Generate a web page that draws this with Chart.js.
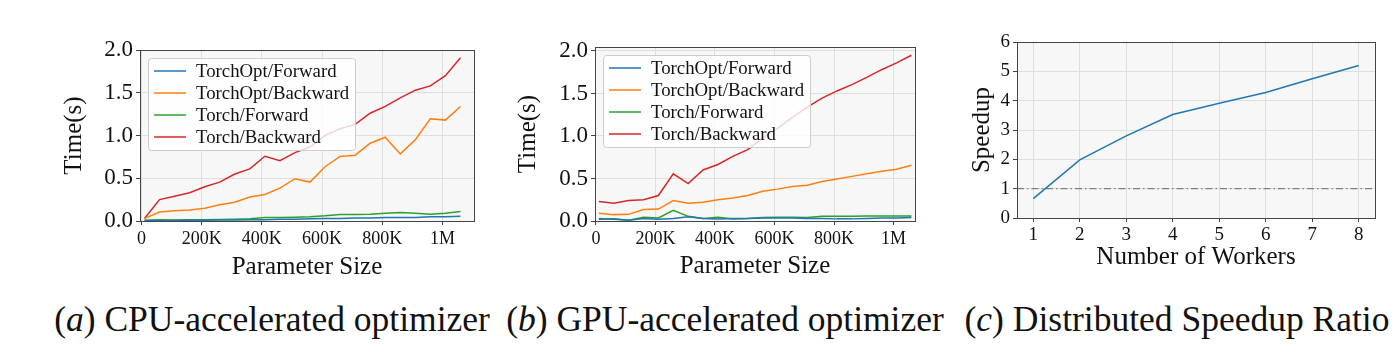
<!DOCTYPE html>
<html>
<head>
<meta charset="utf-8">
<script src="https://cdn.jsdelivr.net/npm/chart.js@4.4.1/dist/chart.umd.min.js"></script>
<style>
    html, body { margin: 0; padding: 0; background: #fff; }
    #page { position: relative; width: 1400px; height: 354px; overflow: hidden; }
    .panel { position: absolute; top: 0; height: 290px; }
    .cap {
        position: absolute; top: 302px; transform: translateX(-50%);
        font-family: "Liberation Serif", serif; font-size: 35.5px; line-height: 1;
        color: #111; white-space: nowrap;
    }
</style>
</head>
<body>
<div id="page">
    <div class="panel" style="left:0;width:480px"><canvas id="cpuChart"></canvas></div>
    <div class="panel" style="left:480px;width:460px"><canvas id="gpuChart"></canvas></div>
    <div class="panel" style="left:940px;width:460px"><canvas id="speedupChart"></canvas></div>
    <div class="cap" style="left:272px">(<i>a</i>) CPU-accelerated optimizer</div>
    <div class="cap" style="left:725px">(<i>b</i>) GPU-accelerated optimizer</div>
    <div class="cap" style="left:1177px">(<i>c</i>) Distributed Speedup Ratio</div>
</div>
<script>
// dati
const paramSizes = [10000, 60000, 110000, 160000, 210000, 260000, 310000, 360000, 410000, 460000, 510000,
    560000, 610000, 660000, 710000, 760000, 810000, 860000, 910000, 960000, 1010000, 1060000];

const seriesLabels = ['TorchOpt/Forward', 'TorchOpt/Backward', 'Torch/Forward', 'Torch/Backward'];
const seriesColors = ['#1f77b4', '#ff7f0e', '#2ca02c', '#d62728'];

// (a) CPU
const cpuTorchOptForward = [0.005, 0.005, 0.005, 0.008, 0.01, 0.012, 0.012, 0.015, 0.015, 0.02, 0.02,
    0.025, 0.028, 0.03, 0.035, 0.035, 0.04, 0.04, 0.04, 0.05, 0.05, 0.055];
const cpuTorchOptBackward = [0.03, 0.105, 0.12, 0.13, 0.15, 0.19, 0.22, 0.28, 0.31, 0.385, 0.495,
    0.455, 0.635, 0.755, 0.77, 0.91, 0.98, 0.785, 0.95, 1.195, 1.18, 1.34];
const cpuTorchForward = [0.01, 0.015, 0.012, 0.015, 0.015, 0.018, 0.02, 0.025, 0.04, 0.042, 0.045,
    0.05, 0.06, 0.075, 0.075, 0.078, 0.09, 0.1, 0.09, 0.08, 0.09, 0.11];
const cpuTorchBackward = [0.03, 0.25, 0.29, 0.33, 0.40, 0.455, 0.55, 0.61, 0.757, 0.705, 0.80,
    0.865, 1.0, 1.08, 1.13, 1.26, 1.34, 1.44, 1.53, 1.58, 1.70, 1.91];

// (b) GPU
const gpuTorchOptForward = [0.02, 0.025, 0.01, 0.03, 0.02, 0.03, 0.05, 0.03, 0.025, 0.03, 0.03,
    0.035, 0.035, 0.035, 0.03, 0.03, 0.025, 0.025, 0.03, 0.035, 0.035, 0.04];
const gpuTorchOptBackward = [0.09, 0.075, 0.078, 0.135, 0.14, 0.24, 0.21, 0.22, 0.25, 0.27, 0.30,
    0.35, 0.375, 0.405, 0.42, 0.465, 0.495, 0.525, 0.555, 0.585, 0.61, 0.655];
const gpuTorchForward = [0.03, 0.02, 0.01, 0.045, 0.035, 0.125, 0.055, 0.03, 0.045, 0.025, 0.03,
    0.04, 0.045, 0.045, 0.04, 0.055, 0.055, 0.055, 0.06, 0.06, 0.06, 0.06];
const gpuTorchBackward = [0.23, 0.21, 0.24, 0.25, 0.30, 0.555, 0.44, 0.60, 0.665, 0.76, 0.84,
    0.975, 1.09, 1.22, 1.34, 1.445, 1.53, 1.605, 1.69, 1.78, 1.86, 1.95];

// (c) speedup
const workers = [1, 2, 3, 4, 5, 6, 7, 8];
const speedup = [0.66, 1.98, 2.80, 3.53, 3.91, 4.28, 4.75, 5.2];
const baseline = 1;

// tick
const timeTicks = [0, 0.5, 1.0, 1.5, 2.0];
const sizeTicks = [0, 200000, 400000, 600000, 800000, 1000000];
const sizeTickLabels = ['0', '200K', '400K', '600K', '800K', '1M'];
const workerTicks = [1, 2, 3, 4, 5, 6, 7, 8];
const speedupTicks = [0, 1, 2, 3, 4, 5, 6];

const SERIF = 'Liberation Serif';
const GRID = '#dedede';
const FRAME = '#444';
const TEXT = '#111';

// sfondo e cornice dell'area del grafico
const framePlugin = {
    id: 'frame',
    beforeDraw(chart) {
        const {ctx, chartArea: a} = chart;
        ctx.save();
        ctx.fillStyle = '#f7f7f7';
        ctx.fillRect(a.left, a.top, a.right - a.left, a.bottom - a.top);
        ctx.restore();
    },
    afterDraw(chart) {
        const {ctx, chartArea: a} = chart;
        ctx.save();
        ctx.strokeStyle = FRAME;
        ctx.lineWidth = 1;
        ctx.strokeRect(Math.round(a.left) + 0.5, Math.round(a.top) + 0.5,
            Math.round(a.right - a.left), Math.round(a.bottom - a.top));
        ctx.restore();
    }
};

// legenda dentro l'area del grafico (come matplotlib)
const insideLegend = {
    id: 'insideLegend',
    afterDatasetsDraw(chart, args, opts) {
        if (!opts || !opts.display) return;
        const {ctx, chartArea} = chart;
        const sets = chart.data.datasets.filter(d => d.label);
        const rowH = 22, lineLen = 32, gap = 10, pad = 6;
        ctx.save();
        ctx.font = '18.8px "' + SERIF + '"';
        const textW = Math.max(...sets.map(d => ctx.measureText(d.label).width));
        const x0 = chartArea.left + opts.dx;
        const y0 = chartArea.top + opts.dy;
        const w = pad + lineLen + gap + textW + pad;
        const h = rowH * (sets.length - 1) + 26;
        ctx.beginPath();
        ctx.roundRect(x0 + 0.5, y0 + 0.5, w, h, 3);
        ctx.fillStyle = 'rgba(255,255,255,0.8)';
        ctx.fill();
        ctx.strokeStyle = '#cccccc';
        ctx.lineWidth = 1;
        ctx.stroke();
        ctx.textBaseline = 'middle';
        sets.forEach((d, i) => {
            const cy = y0 + 13 + i * rowH;
            ctx.beginPath();
            ctx.moveTo(x0 + pad, cy);
            ctx.lineTo(x0 + pad + lineLen, cy);
            ctx.strokeStyle = d.borderColor;
            ctx.lineWidth = 1.5;
            ctx.stroke();
            ctx.fillStyle = TEXT;
            ctx.fillText(d.label, x0 + pad + lineLen + gap, cy + 1);
        });
        ctx.restore();
    }
};

function lineSet(label, color, xs, ys) {
    return {
        label: label,
        data: xs.map((x, i) => ({x: x, y: ys[i]})),
        borderColor: color,
        backgroundColor: color,
        borderWidth: 1.5,
        pointRadius: 0,
        tension: 0,
        fill: false
    };
}

function fixedTicks(values) {
    return scale => { scale.ticks = values.map(v => ({value: v})); };
}

// box = area del grafico in pixel del canvas
function timeChart(canvasId, series, box, xRange, yMax, yTitlePad, xTitlePad) {
    const canvas = document.getElementById(canvasId);
    const titleFont = {family: SERIF, size: 25, lineHeight: 1};
    return new Chart(canvas, {
        type: 'line',
        data: {
            datasets: series.map((s, i) => lineSet(seriesLabels[i], seriesColors[i], paramSizes, s))
        },
        options: {
            responsive: true,
            maintainAspectRatio: false,
            animation: false,
            events: [],
            layout: {padding: {left: 0, top: box.top, right: box.padRight, bottom: 0}},
            plugins: {
                legend: {display: false},
                tooltip: {enabled: false},
                insideLegend: {display: true, dx: 8, dy: 8}
            },
            scales: {
                x: {
                    type: 'linear',
                    min: xRange[0],
                    max: xRange[1],
                    afterBuildTicks: fixedTicks(sizeTicks),
                    afterFit: s => { s.height = box.xHeight; },
                    ticks: {
                        font: {family: SERIF, size: 18}, color: TEXT, padding: 3, maxRotation: 0, autoSkip: false,
                        callback: (v, i) => sizeTickLabels[i]
                    },
                    grid: {color: GRID, tickColor: FRAME, tickLength: 4},
                    border: {display: false},
                    title: {display: true, text: 'Parameter Size', font: titleFont, color: TEXT,
                        padding: {top: 0, bottom: xTitlePad}}
                },
                y: {
                    min: 0,
                    max: yMax,
                    afterBuildTicks: fixedTicks(timeTicks),
                    afterFit: s => { s.width = box.left; },
                    ticks: {
                        font: {family: SERIF, size: 23}, color: TEXT, padding: 3,
                        callback: v => v.toFixed(1)
                    },
                    grid: {color: GRID, tickColor: FRAME, tickLength: 4},
                    border: {display: false},
                    title: {display: true, text: 'Time(s)', font: titleFont, color: TEXT,
                        padding: {top: yTitlePad, bottom: 0}}
                }
            }
        },
        plugins: [framePlugin, insideLegend]
    });
}

timeChart('cpuChart',
    [cpuTorchOptForward, cpuTorchOptBackward, cpuTorchForward, cpuTorchBackward],
    {left: 140, top: 50, padRight: 6, xHeight: 69},
    [-5000, 1105000], 2.0, 62, 10);

timeChart('gpuChart',
    [gpuTorchOptForward, gpuTorchOptBackward, gpuTorchForward, gpuTorchBackward],
    {left: 115, top: 47, padRight: 25, xHeight: 69},
    [-3000, 1072000], 2.047, 36, 11);

// (c) speedup distribuito
new Chart(document.getElementById('speedupChart'), {
    type: 'line',
    data: {
        datasets: [
            lineSet('Speedup', '#1f77b4', workers, speedup),
            {
                data: [{x: 0.65, y: baseline}, {x: 8.35, y: baseline}],
                borderColor: '#7f7f7f',
                borderWidth: 1.2,
                borderDash: [7, 3, 1.5, 3],
                pointRadius: 0,
                fill: false
            }
        ]
    },
    options: {
        responsive: true,
        maintainAspectRatio: false,
        animation: false,
        events: [],
        layout: {padding: {left: 0, top: 42, right: 25, bottom: 0}},
        plugins: {legend: {display: false}, tooltip: {enabled: false}},
        scales: {
            x: {
                type: 'linear',
                min: 0.65,
                max: 8.35,
                afterBuildTicks: fixedTicks(workerTicks),
                afterFit: s => { s.height = 72; },
                ticks: {font: {family: SERIF, size: 19}, color: TEXT, padding: 2, maxRotation: 0},
                grid: {color: GRID, tickColor: FRAME, tickLength: 4},
                border: {display: false},
                title: {display: true, text: 'Number of Workers', font: {family: SERIF, size: 25, lineHeight: 1},
                    color: TEXT, padding: {top: 0, bottom: 20}}
            },
            y: {
                min: 0,
                max: 6,
                afterBuildTicks: fixedTicks(speedupTicks),
                afterFit: s => { s.width = 77; },
                ticks: {font: {family: SERIF, size: 19}, color: TEXT, padding: 3},
                grid: {color: GRID, tickColor: FRAME, tickLength: 4},
                border: {display: false},
                title: {display: true, text: 'Speedup', font: {family: SERIF, size: 25, lineHeight: 1},
                    color: TEXT, padding: {top: 30, bottom: 0}}
            }
        }
    },
    plugins: [framePlugin]
});
</script>
</body>
</html>
